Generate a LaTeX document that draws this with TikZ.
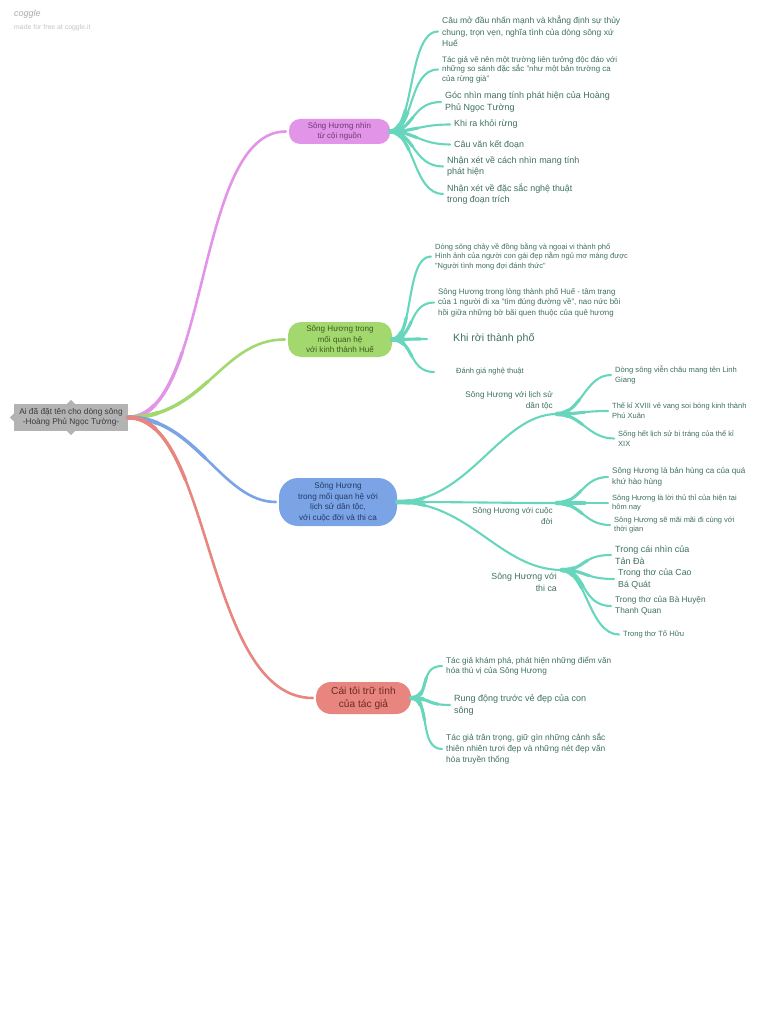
\documentclass[tikz,border=0pt]{standalone}
\usepackage{fontspec}
\setmainfont{Liberation Sans}
\definecolor{pinkB}{HTML}{E294E8}
\definecolor{pinkT}{HTML}{6B3A70}
\definecolor{greenB}{HTML}{A3D86E}
\definecolor{greenT}{HTML}{3E5A22}
\definecolor{blueB}{HTML}{7BA4E6}
\definecolor{blueT}{HTML}{253A66}
\definecolor{redB}{HTML}{E8857F}
\definecolor{redT}{HTML}{6E2A26}
\definecolor{tealB}{HTML}{67D6BC}
\definecolor{leafT}{HTML}{3E6F62}
\definecolor{rootG}{HTML}{B3B3B3}
\definecolor{rootT}{HTML}{3B3B3B}
\definecolor{logoG}{HTML}{AAAAAA}
\begin{document}
\begin{tikzpicture}[x=1pt,y=-1pt,
  fsz/.style 2 args={font=\fontsize{#1}{#2}\selectfont},
  branch/.style={line width=2.6pt,line cap=round,
    preaction={draw=#1,line width=3.4pt,line cap=round,dash pattern=on 90pt off 3000pt},
    preaction={draw=#1,line width=4.2pt,line cap=round,dash pattern=on 30pt off 3000pt},
    draw=#1},
  sub/.style={draw=tealB,line width=2.1pt,line cap=round,
    preaction={draw=tealB,line width=3.1pt,line cap=round,dash pattern=on 28pt off 2000pt},
    preaction={draw=tealB,line width=4.2pt,line cap=round,dash pattern=on 12pt off 2000pt}},
  leaf/.style={anchor=west,align=left,inner xsep=4pt,inner ysep=0pt,text=leafT},
  topic/.style={rounded corners=#1,align=center,inner sep=0pt},
  mid/.style={align=right,inner sep=0pt,text=leafT}]
\useasboundingbox (0,0) rectangle (768,1024);

% logo
\node[anchor=west,inner sep=0pt,text=logoG,fsz={9}{10}] (logo) at (14,14) {\itshape coggle};
\node[anchor=west,inner sep=0pt,text=logoG!70,fsz={6.9}{8}] (made) at (14,28) {made for free at coggle.it};

% root
\node[fill=rootG,text=rootT,align=center,inner sep=0pt,minimum width=114pt,minimum height=27pt,fsz={8.3}{10.5}] (root) at (71,417.5) {Ai đã đặt tên cho dòng sông\\-Hoàng Phủ Ngọc Tường-};
\fill[rootG] ([xshift=-4pt]root.north) -- ([yshift=4pt]root.north) -- ([xshift=4pt]root.north) -- cycle;
\fill[rootG] ([xshift=-4pt]root.south) -- ([yshift=-4pt]root.south) -- ([xshift=4pt]root.south) -- cycle;
\fill[rootG] ([yshift=-4pt]root.west) -- ([xshift=-4pt]root.west) -- ([yshift=4pt]root.west) -- cycle;

% topics
\node[topic=11pt,fill=pinkB,text=pinkT,minimum width=101pt,minimum height=25pt,fsz={7.9}{10.5}] (pink) at (339.5,131.5) {Sông Hương nhìn\\từ cội nguồn};
\node[topic=13pt,fill=greenB,text=greenT,minimum width=104pt,minimum height=35pt,fsz={8.1}{10.5}] (green) at (340,339.5) {Sông Hương trong\\mối quan hệ\\với kinh thành Huế};
\node[topic=19pt,fill=blueB,text=blueT,minimum width=118pt,minimum height=48pt,fsz={8.2}{10.7}] (blue) at (338,502) {Sông Hương\\trong mối quan hệ với\\lịch sử dân tộc,\\với cuộc đời và thi ca};
\node[topic=15pt,fill=redB,text=redT,minimum width=95pt,minimum height=32pt,fsz={10.2}{13}] (red) at (363.5,698) {Cái tôi trữ tình\\của tác giả};

% main branches
\draw[branch=pinkB] (root.east) .. controls (210,417) and (195,131) .. ([xshift=-3pt]pink.west);
\draw[branch=greenB] (root.east) .. controls (205,417) and (222,339) .. ([xshift=-3pt]green.west);
\draw[branch=blueB] (root.east) .. controls (195,417) and (222,502) .. ([xshift=-3pt]blue.west);
\draw[branch=redB] (root.east) .. controls (212,417) and (205,698) .. ([xshift=-3pt]red.west);

% pink leaves
\node[leaf,fsz={8.5}{11.3}] (p1) at (438,31.5) {Câu mở đầu nhấn mạnh và khẳng định sự thủy\\chung, trọn vẹn, nghĩa tình của dòng sông xứ\\Huế};
\node[leaf,fsz={7.9}{9.5}] (p2) at (438,69.5) {Tác giả vẽ nên một trường liên tưởng độc đáo với\\những so sánh đặc sắc "như một bản trường ca\\của rừng già"};
\node[leaf,fsz={9}{11.5}] (p3) at (441,102) {Góc nhìn mang tính phát hiện của Hoàng\\Phủ Ngọc Tường};
\node[leaf,fsz={8.9}{11}] (p4) at (450,124.5) {Khi ra khỏi rừng};
\node[leaf,fsz={8.9}{11}] (p5) at (450,144.5) {Câu văn kết đoạn};
\node[leaf,fsz={9}{11}] (p6) at (443,166.5) {Nhận xét về cách nhìn mang tính\\phát hiện};
\node[leaf,fsz={8.9}{11}] (p7) at (443,194) {Nhận xét về đặc sắc nghệ thuật\\trong đoạn trích};
\foreach \n in {p1,p2,p3,p4,p5,p6,p7}
  \draw[sub] (pink.east) .. controls +(24,0) and +(-30,0) .. (\n.west);

% green leaves
\node[leaf,fsz={7.5}{9.5}] (g1) at (431,256.5) {Dòng sông chảy về đồng bằng và ngoại vi thành phố\\Hình ảnh của người con gái đẹp nằm ngủ mơ màng được\\"Người tình mong đợi đánh thức"};
\node[leaf,fsz={7.9}{10.3}] (g2) at (434,302.5) {Sông Hương trong lòng thành phố Huế - tâm trạng\\của 1 người đi xa "tìm đúng đường về", nao nức bồi\\hồi giữa những bờ bãi quen thuộc của quê hương};
\node[leaf,fsz={10.6}{12},inner xsep=26pt] (g3) at (427,339) {Khi rời thành phố};
\node[leaf,fsz={7.5}{9.5},inner xsep=22pt] (g4) at (434,372) {Đánh giá nghệ thuật};
\foreach \n in {g1,g2,g3,g4}
  \draw[sub] (green.east) .. controls +(22,0) and +(-26,0) .. (\n.west);

% blue sub-topics
\coordinate (jL) at (557,414);
\coordinate (jC) at (557,503);
\coordinate (jT) at (562,570);
\node[mid,anchor=south east,fsz={8.2}{11}] (mL) at (553,410) {Sông Hương với lịch sử\\dân tộc};
\node[mid,anchor=north east,fsz={8.2}{11.5}] (mC) at (553,507) {Sông Hương với cuộc\\đời};
\node[mid,anchor=north east,fsz={8.8}{12}] (mT) at (557,573) {Sông Hương với\\thi ca};
\draw[sub] (blue.east) .. controls (470,502) and (500,414) .. (jL);
\draw[sub] (blue.east) .. controls (470,502) and (500,503) .. (jC);
\draw[sub] (blue.east) .. controls (470,502) and (500,570) .. (jT);

\node[leaf,fsz={7.6}{10}] (l1) at (611,375) {Dòng sông viễn châu mang tên Linh\\Giang};
\node[leaf,fsz={7.5}{10}] (l2) at (608,411) {Thế kỉ XVIII vẻ vang soi bóng kinh thành\\Phú Xuân};
\node[leaf,fsz={7.5}{9.5}] (l3) at (614,438.5) {Sống hết lịch sử bi tráng của thế kỉ\\XIX};
\foreach \n in {l1,l2,l3}
  \draw[sub] (jL) .. controls +(24,0) and +(-26,0) .. (\n.west);

\node[leaf,fsz={8.1}{10.5}] (c1) at (608,477) {Sông Hương là bản hùng ca của quá\\khứ hào hùng};
\node[leaf,fsz={7.5}{9.5}] (c2) at (608,503) {Sông Hương là lời thủ thỉ của hiện tại\\hôm nay};
\node[leaf,fsz={7.5}{9.5}] (c3) at (610,525) {Sông Hương sẽ mãi mãi đi cùng với\\thời gian};
\foreach \n in {c1,c2,c3}
  \draw[sub] (jC) .. controls +(24,0) and +(-26,0) .. (\n.west);

\node[leaf,fsz={9}{12}] (t1) at (611,555) {Trong cái nhìn của\\Tản Đà};
\node[leaf,fsz={8.8}{12}] (t2) at (614,579) {Trong thơ của Cao\\Bá Quát};
\node[leaf,fsz={8.3}{11}] (t3) at (611,606) {Trong thơ của Bà Huyện\\Thanh Quan};
\node[leaf,fsz={7.6}{9.5}] (t4) at (619,634.5) {Trong thơ Tố Hữu};
\foreach \n in {t1,t2,t3,t4}
  \draw[sub] (jT) .. controls +(24,0) and +(-30,0) .. (\n.west);

% red leaves
\node[leaf,fsz={8.2}{10.5}] (r1) at (442,666) {Tác giả khám phá, phát hiện những điểm văn\\hóa thú vị của Sông Hương};
\node[leaf,fsz={9}{12}] (r2) at (450,705) {Rung động trước vẻ đẹp của con\\sông};
\node[leaf,fsz={8.4}{11}] (r3) at (442,749) {Tác giả trân trọng, giữ gìn những cảnh sắc\\thiên nhiên tươi đẹp và những nét đẹp văn\\hóa truyền thống};
\foreach \n in {r1,r2,r3}
  \draw[sub] (red.east) .. controls +(20,0) and +(-24,0) .. (\n.west);
\end{tikzpicture}
\end{document}
